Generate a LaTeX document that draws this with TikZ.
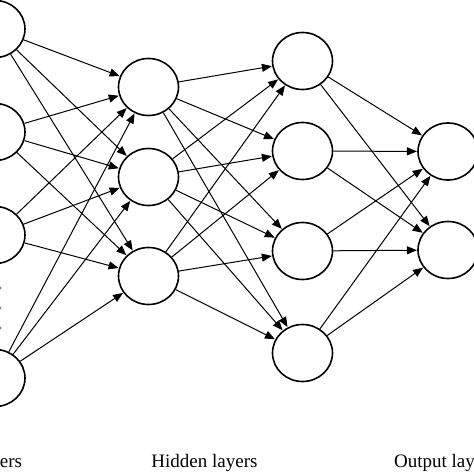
\documentclass[tikz,border=0pt]{standalone}
\usepackage{fontspec}
\setmainfont{Liberation Serif}
\usetikzlibrary{arrows.meta,shapes.geometric}
\begin{document}
\begin{tikzpicture}[x=1pt,y=-1pt,
  neuron/.style={ellipse,draw,line width=1.6pt,minimum width=60pt,minimum height=57pt,inner sep=0pt,fill=white},
  conn/.style={line width=1pt,-{Triangle[length=10pt,width=8pt]},shorten >=0.3pt},
  lbl/.style={anchor=base,font=\fontsize{19}{22}\selectfont,inner sep=0pt}]
\useasboundingbox (0,0) rectangle (474,474);
\begin{scope}
\clip (0,0) rectangle (474,474);
% input layer
\node[neuron] (i1) at (-5,29) {};
\node[neuron] (i2) at (-5,132) {};
\node[neuron] (i3) at (-5,235) {};
\node[neuron] (i4) at (-5,378) {};
% hidden layer 1
\node[neuron] (a1) at (148.5,87) {};
\node[neuron] (a2) at (148.5,177) {};
\node[neuron] (a3) at (148.5,276) {};
% hidden layer 2
\node[neuron] (b1) at (302.5,61) {};
\node[neuron] (b2) at (302.5,151) {};
\node[neuron] (b3) at (302.5,251) {};
\node[neuron] (b4) at (302.5,353) {};
% output layer
\node[neuron] (o1) at (448,151.5) {};
\node[neuron] (o2) at (448,250) {};
% connections
\foreach \s in {i1,i2,i3,i4}
  \foreach \t in {a1,a2,a3}
    \draw[conn] (\s) -- (\t);
\foreach \s in {a1,a2,a3}
  \foreach \t in {b1,b2,b3,b4}
    \draw[conn] (\s) -- (\t);
\foreach \s in {b1,b2,b3,b4}
  \foreach \t in {o1,o2}
    \draw[conn] (\s) -- (\t);
% dots
\foreach \y in {288,308,328}
  \fill[gray] (0,\y) circle (1.6pt);
% labels
\node[lbl] (li) at (-23,467) {Input layers};
\node[lbl] (lh) at (204.5,467) {Hidden layers};
\node[lbl] (lo) at (445.5,467) {Output layers};
\end{scope}
\end{tikzpicture}
\end{document}
